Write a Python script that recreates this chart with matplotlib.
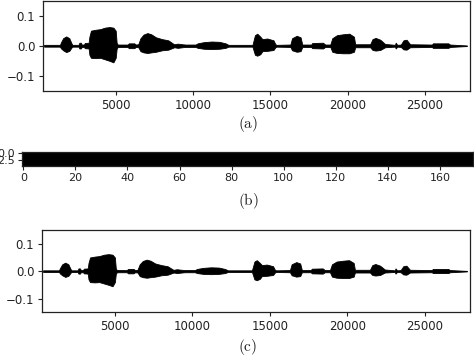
import numpy as np
import matplotlib
matplotlib.use("Agg")
import matplotlib.pyplot as plt

plt.rcParams['mathtext.fontset'] = 'cm'

# envelope of the audio waveform (sample index, upper, lower amplitude)
env_x = [370, 1400, 1450, 1600, 1800, 2000, 2140, 2200,
         2600, 2650, 2750, 2800, 2950, 3000, 3250,
         3300, 3400, 3700, 4000, 4300, 4600, 4850, 5000, 5060, 5130,
         5770, 5850, 6200, 6300,
         6460, 6600, 6800, 7050, 7300, 7600, 8000, 8400, 8740, 8800, 9000, 9300, 9510,
         10160, 10300, 10700, 11200, 11700, 12100, 12290,
         13840, 14000, 14150, 14350, 14480, 14800, 15200, 15320, 15400,
         16290, 16400, 16700, 16950, 17060,
         17640, 17700, 18400, 18540,
         18870, 19000, 19300, 19700, 20100, 20400, 20480,
         21450, 21600, 21800, 22100, 22410,
         23050, 23100, 23200,
         23430, 23600, 23800, 24030,
         25450, 25500, 26500, 26610, 27700]
env_top = [0.003, 0.003, 0.010, 0.025, 0.031, 0.025, 0.008, 0.003,
           0.003, 0.010, 0.010, 0.004, 0.004, 0.009, 0.010,
           0.030, 0.050, 0.053, 0.055, 0.060, 0.062, 0.060, 0.050, 0.010, 0.004,
           0.004, 0.008, 0.008, 0.004,
           0.005, 0.025, 0.037, 0.042, 0.038, 0.028, 0.022, 0.018, 0.006, 0.005, 0.007, 0.005, 0.004,
           0.004, 0.008, 0.012, 0.014, 0.013, 0.008, 0.003,
           0.003, 0.035, 0.040, 0.030, 0.022, 0.024, 0.018, 0.005, 0.003,
           0.004, 0.025, 0.033, 0.028, 0.004,
           0.004, 0.009, 0.010, 0.004,
           0.004, 0.025, 0.035, 0.038, 0.040, 0.030, 0.005,
           0.005, 0.022, 0.026, 0.020, 0.006,
           0.003, 0.010, 0.003,
           0.004, 0.018, 0.020, 0.005,
           0.004, 0.008, 0.008, 0.004, 0.001]
env_bot = [-0.003, -0.003, -0.008, -0.015, -0.021, -0.017, -0.006, -0.003,
           -0.003, -0.009, -0.009, -0.004, -0.004, -0.008, -0.009,
           -0.030, -0.040, -0.041, -0.040, -0.045, -0.050, -0.055, -0.040, -0.010, -0.004,
           -0.004, -0.008, -0.008, -0.004,
           -0.005, -0.018, -0.022, -0.024, -0.022, -0.020, -0.015, -0.013, -0.006, -0.005, -0.007, -0.005, -0.004,
           -0.004, -0.007, -0.010, -0.011, -0.010, -0.007, -0.003,
           -0.003, -0.030, -0.033, -0.028, -0.018, -0.017, -0.014, -0.005, -0.003,
           -0.004, -0.015, -0.020, -0.018, -0.004,
           -0.004, -0.008, -0.009, -0.004,
           -0.004, -0.020, -0.024, -0.025, -0.025, -0.020, -0.005,
           -0.005, -0.014, -0.016, -0.014, -0.005,
           -0.003, -0.009, -0.003,
           -0.004, -0.012, -0.013, -0.005,
           -0.004, -0.007, -0.007, -0.004, -0.001]

wave_xticks = [5000, 10000, 15000, 20000, 25000]
wave_yticks = [-0.1, 0.0, 0.1]

# middle strip: 5 x 173 all-black image
strip = np.ones((5, 173))
strip_xticks = [0, 20, 40, 60, 80, 100, 120, 140, 160]
strip_yticks = [0.0, 2.5]

captions = ['(a)', '(b)', '(c)']

ink = '#222222'
fig = plt.figure(figsize=(4.74, 3.58), dpi=100)

def wave_axes(rect):
    ax = fig.add_axes(rect)
    ax.fill_between(env_x, env_top, env_bot, color='black', lw=0.6, edgecolor='black')
    ax.set_xlim(300, 27870)
    ax.set_ylim(-0.15, 0.15)
    ax.set_xticks(wave_xticks)
    ax.set_xticklabels([str(t) for t in wave_xticks])
    ax.set_yticks(wave_yticks)
    ax.set_yticklabels(['\u22120.1', '0.0', '0.1'])
    ax.tick_params(labelsize=8.5, colors=ink, length=3, pad=2.5)
    for s in ax.spines.values():
        s.set_color(ink)
        s.set_linewidth(0.9)
    return ax

ax1 = wave_axes([43 / 474, 1 - 91 / 358, 426.5 / 474, 90.5 / 358])

ax2 = fig.add_axes([22 / 474, 1 - 166 / 358, 450.5 / 474, 14.3 / 358])
ax2.imshow(strip, cmap='gray_r', vmin=0, vmax=1, aspect='auto', interpolation='none')
ax2.set_xticks(strip_xticks)
ax2.set_yticks(strip_yticks)
ax2.set_yticklabels(['0.0', '2.5'])
ax2.tick_params(labelsize=8, colors=ink, length=3, pad=2)
for s in ax2.spines.values():
    s.set_color(ink)
    s.set_linewidth(0.9)

ax3 = wave_axes([42 / 474, 1 - 312.3 / 358, 427.5 / 474, 82.3 / 358])

# panel captions
cap_y = [124, 201, 347]
for c, y in zip(captions, cap_y):
    fig.text(248 / 474, 1 - y / 358, r'$\mathrm{' + c + '}$', ha='center', va='center',
             fontsize=11, color=ink)

fig.savefig('out.png', dpi=100)
